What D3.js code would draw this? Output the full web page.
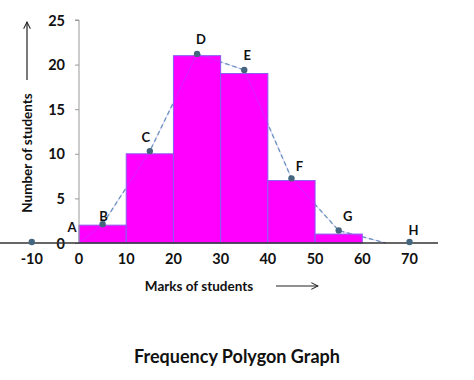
<!DOCTYPE html>
<html><head><meta charset="utf-8">
<script src="https://cdn.jsdelivr.net/npm/d3@7"></script>
<style>body{margin:0;background:#fff}svg{display:block}text{font-family:Lato,"Open Sans",sans-serif;font-weight:bold;fill:#111}</style>
</head><body><svg id="c" width="474" height="380"></svg>
<script>
// ---- data ----
const binStart = [0, 10, 20, 30, 40, 50];
const binWidth = 10;
const frequency = [2, 10, 21, 19, 7, 1];
const polyMarks = [0, 5, 15, 25, 35, 45, 55, 65];
const polyFreq  = [0, 2.1, 10.3, 21.2, 19.4, 7.25, 1.4, 0];
const dotMarks = [5, 15, 25, 35, 45, 55];
const dotFreq  = [2.1, 10.3, 21.2, 19.4, 7.25, 1.4];
const extraDotMarks = [-10, 70];
const pointNames = ["A", "B", "C", "D", "E", "F", "G", "H"];
const pointNameMarks = [0, 5, 15, 25, 35, 45, 55, 70];
const pointNameFreq  = [0, 2.1, 10.3, 21.2, 19.4, 7.25, 1.4, 0];
const xTicks = [-10, 0, 10, 20, 30, 40, 50, 60, 70];
const yTicks = [0, 5, 10, 15, 20, 25];
const xTitle = "Marks of students";
const yTitle = "Number of students";
const chartTitle = "Frequency Polygon Graph";
// label offsets (styling)
const nameDx = [-7, 1, -4, 4, 3, 8, 9, 4];
const nameDy = [-16, -8, -14, -15, -15, -12, -15, -13];

const svg = d3.select("#c");
const x = d3.scaleLinear().domain([0, 60]).range([79, 362.3]);
const y = d3.scaleLinear().domain([0, 25]).range([243, 20]);

// polygon line underneath
const line = d3.line().x((d, i) => x(polyMarks[i])).y((d, i) => y(polyFreq[i]));
svg.append("path").datum(polyMarks).attr("d", line)
  .attr("fill", "none").attr("stroke", "#72a2b2").attr("stroke-width", 1.4)
  .attr("stroke-dasharray", "4.5,3");

// bars
svg.selectAll("rect.bar").data(frequency).enter().append("rect")
  .attr("class", "bar")
  .attr("x", (d, i) => x(binStart[i]))
  .attr("width", (d, i) => x(binStart[i] + binWidth) - x(binStart[i]))
  .attr("y", d => y(d))
  .attr("height", d => y(0) - y(d))
  .attr("fill", "#ff00ff").attr("stroke", "#8a5cf0").attr("stroke-width", 1);

// faint line over bars
svg.append("path").datum(polyMarks).attr("d", line)
  .attr("fill", "none").attr("stroke", "#7a6cff").attr("stroke-width", 1)
  .attr("stroke-opacity", 0.3);

// y axis
const yAxis = svg.append("g").attr("transform", `translate(${x(0)},0)`)
  .call(d3.axisLeft(y).tickValues(yTicks).tickSize(4).tickFormat(""));
yAxis.select(".domain").attr("stroke", "#999").attr("d", `M-4,${y(25)}H0V${y(0)}`);
yAxis.selectAll(".tick line").attr("stroke", "#999");
svg.selectAll("text.ytl").data(yTicks).enter().append("text")
  .attr("class", "ytl").attr("x", 65).attr("y", d => y(d))
  .attr("text-anchor", "end").attr("dominant-baseline", "central")
  .attr("font-size", 14.5).text(d => d);

// x axis
svg.append("line").attr("x1", 0).attr("x2", 438).attr("y1", y(0)).attr("y2", y(0))
  .attr("stroke", "#333").attr("stroke-width", 1.5);
svg.selectAll("text.xtl").data(xTicks).enter().append("text")
  .attr("class", "xtl").attr("x", d => x(d)).attr("y", 258)
  .attr("text-anchor", "middle").attr("dominant-baseline", "central")
  .attr("font-size", 14.5).text(d => d);

// dots
const dotColor = "#45667f";
svg.selectAll("circle.pd").data(dotMarks).enter().append("circle")
  .attr("class", "pd").attr("cx", d => x(d)).attr("cy", (d, i) => y(dotFreq[i]))
  .attr("r", 3.2).attr("fill", dotColor);
svg.selectAll("circle.ed").data(extraDotMarks).enter().append("circle")
  .attr("class", "ed").attr("cx", d => x(d)).attr("cy", y(0) - 1)
  .attr("r", 3.2).attr("fill", dotColor);

// point names
svg.selectAll("text.pn").data(pointNames).enter().append("text")
  .attr("class", "pn")
  .attr("x", (d, i) => x(pointNameMarks[i]) + nameDx[i])
  .attr("y", (d, i) => y(pointNameFreq[i]) + nameDy[i])
  .attr("text-anchor", "middle").attr("dominant-baseline", "central")
  .attr("font-size", 13).text(d => d);

// arrow marker
svg.append("defs").append("marker").attr("id", "ah")
  .attr("viewBox", "0 0 10 10").attr("refX", 9).attr("refY", 5)
  .attr("markerWidth", 7).attr("markerHeight", 7).attr("orient", "auto")
  .append("path").attr("d", "M1,1L9,5L1,9").attr("fill", "none")
  .attr("stroke", "#222").attr("stroke-width", 1.2);

// y title + arrow
svg.append("text").attr("transform", "translate(27,153) rotate(-90)")
  .attr("text-anchor", "middle").attr("dominant-baseline", "central")
  .attr("font-size", 13.5).text(yTitle);
svg.append("line").attr("x1", 27).attr("x2", 27).attr("y1", 80).attr("y2", 22)
  .attr("stroke", "#222").attr("stroke-width", 1.2).attr("marker-end", "url(#ah)");

// x title + arrow
svg.append("text").attr("x", 199).attr("y", 286)
  .attr("text-anchor", "middle").attr("dominant-baseline", "central")
  .attr("font-size", 13.5).text(xTitle);
svg.append("line").attr("x1", 276).attr("x2", 318).attr("y1", 286).attr("y2", 286)
  .attr("stroke", "#222").attr("stroke-width", 1.2).attr("marker-end", "url(#ah)");

// chart title
svg.append("text").attr("x", 237).attr("y", 356)
  .attr("text-anchor", "middle").attr("dominant-baseline", "central")
  .attr("font-size", 18).text(chartTitle);
</script></body></html>
